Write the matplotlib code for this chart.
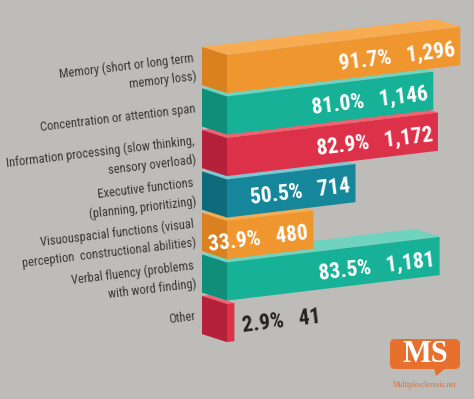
import numpy as np
import matplotlib
matplotlib.use("Agg")
import matplotlib.pyplot as plt
from matplotlib.transforms import Affine2D
from matplotlib.patches import Polygon, FancyBboxPatch

# ---------------------------------- data ---------------------------------- #
labels = [
    "Memory (short or long term\nmemory loss)",
    "Concentration or attention span",
    "Information processing (slow thinking,\nsensory overload)",
    "Executive functions\n(planning, prioritizing)",
    "Visuouspacial functions (visual\nperception  constructional abilities)",
    "Verbal fluency (problems\nwith word finding)",
    "Other",
]
counts = [1296, 1146, 1172, 714, 480, 1181, 41]
percents = [91.7, 81.0, 82.9, 50.5, 33.9, 83.5, 2.9]

# front / left side / top face colours
palette = {
    "orange": ("#f0962f", "#d9801f", "#f7ac52"),
    "teal": ("#16b197", "#0f8e79", "#6fd3c0"),
    "red": ("#dc3149", "#b5213a", "#f1616f"),
    "blue": ("#16879a", "#0f6a7b", "#7fc6d3"),
}
bar_colors = ["orange", "teal", "red", "blue", "orange", "teal", "red"]

# --------------------------------- layout --------------------------------- #
W, H = 474, 399
px_per_count = 0.18
px_per_row = 41.5
x0_px, y0_px = 227, 74  # front-left corner of first bar centre
slope = 0.12  # bars rise to the right
bar_h = 0.92
depth_px = (-25, -8)

BG = "#bdbcb8"
narrow = ["Roboto Condensed", "Liberation Sans Narrow", "Roboto", "DejaVu Sans"]

fig = plt.figure(figsize=(W / 100, H / 100), dpi=100, facecolor=BG)
ax = fig.add_axes([0, 0, 1, 1])
ax.set_facecolor(BG)
ax.set_xlim(-x0_px / px_per_count, (W - x0_px) / px_per_count)
ax.set_ylim((H - y0_px) / px_per_row, -y0_px / px_per_row)
ax.axis("off")

k = slope * px_per_count / px_per_row
skew = Affine2D(np.array([[1, 0, 0], [-k, 1, 0], [0, 0, 1]])) + ax.transData

dx = depth_px[0] / px_per_count
dy = depth_px[1] / px_per_row + k * dx
angle = np.degrees(np.arctan(slope))

n = len(counts)
rows = np.arange(n)

bars = ax.barh(rows, counts, height=bar_h, transform=skew, lw=0)

for i, (v, p, lab, c) in enumerate(zip(counts, percents, labels, bar_colors)):
    front, side, top_c = palette[c]
    z = 10 + 3 * (n - i)
    top = i - bar_h / 2
    bot = i + bar_h / 2

    # top face
    ax.add_patch(
        Polygon(
            [(0, top), (v, top), (v + dx, top + dy), (dx, top + dy)],
            closed=True, color=top_c, lw=0, transform=skew, zorder=z,
        )
    )
    # left face
    ax.add_patch(
        Polygon(
            [(0, top), (0, bot), (dx, bot + dy), (dx, top + dy)],
            closed=True, color=side, lw=0, transform=skew, zorder=z + 1,
        )
    )
    bars[i].set_color(front)
    bars[i].set_zorder(z + 2)

    # value labels
    txt = f"{p:.1f}%   {v:,}"
    if v * px_per_count > 40:
        ax.text(
            v - 5 / px_per_count, i + 0.06, txt, transform=skew,
            ha="right", va="center", rotation=angle, rotation_mode="anchor",
            color="white", fontsize=15.5, fontweight="bold",
            family=narrow, zorder=z + 2.5,
        )
    else:
        ax.text(
            v + 8 / px_per_count, i + 0.12, txt,
            transform=skew, ha="left", va="center", rotation=angle,
            rotation_mode="anchor", color="#222222", fontsize=15.5,
            fontweight="bold", family=narrow, zorder=z + 2.5,
        )

    # category labels
    ax.text(
        -32 / px_per_count, i - 0.25, lab, transform=skew,
        ha="right", va="center", multialignment="right",
        rotation=angle, rotation_mode="anchor", color="#383838",
        fontsize=9, linespacing=1.5, family=narrow,
    )

# ---------------------------------- logo ---------------------------------- #
lax = fig.add_axes([386 / W, 1 - 392 / H, 78 / W, 56 / H])
lax.set_xlim(0, 78)
lax.set_ylim(56, 0)
lax.axis("off")
lax.add_patch(
    FancyBboxPatch(
        (4, 3), 70, 30, boxstyle="round,pad=0,rounding_size=5",
        color="#e8702f", lw=0,
    )
)
lax.add_patch(Polygon([(48, 32), (60, 32), (50, 40)], color="#e8702f", lw=0))
lax.text(39, 18.5, "MS", ha="center", va="center", color="white",
         fontsize=22, fontweight="bold", family="Liberation Serif")
lax.text(39, 49, "Multiplesclerosis.net", ha="center", va="center",
         color="#d9703c", fontsize=5.5, family="Liberation Serif")

fig.savefig("out.png", dpi=100, facecolor=BG)
